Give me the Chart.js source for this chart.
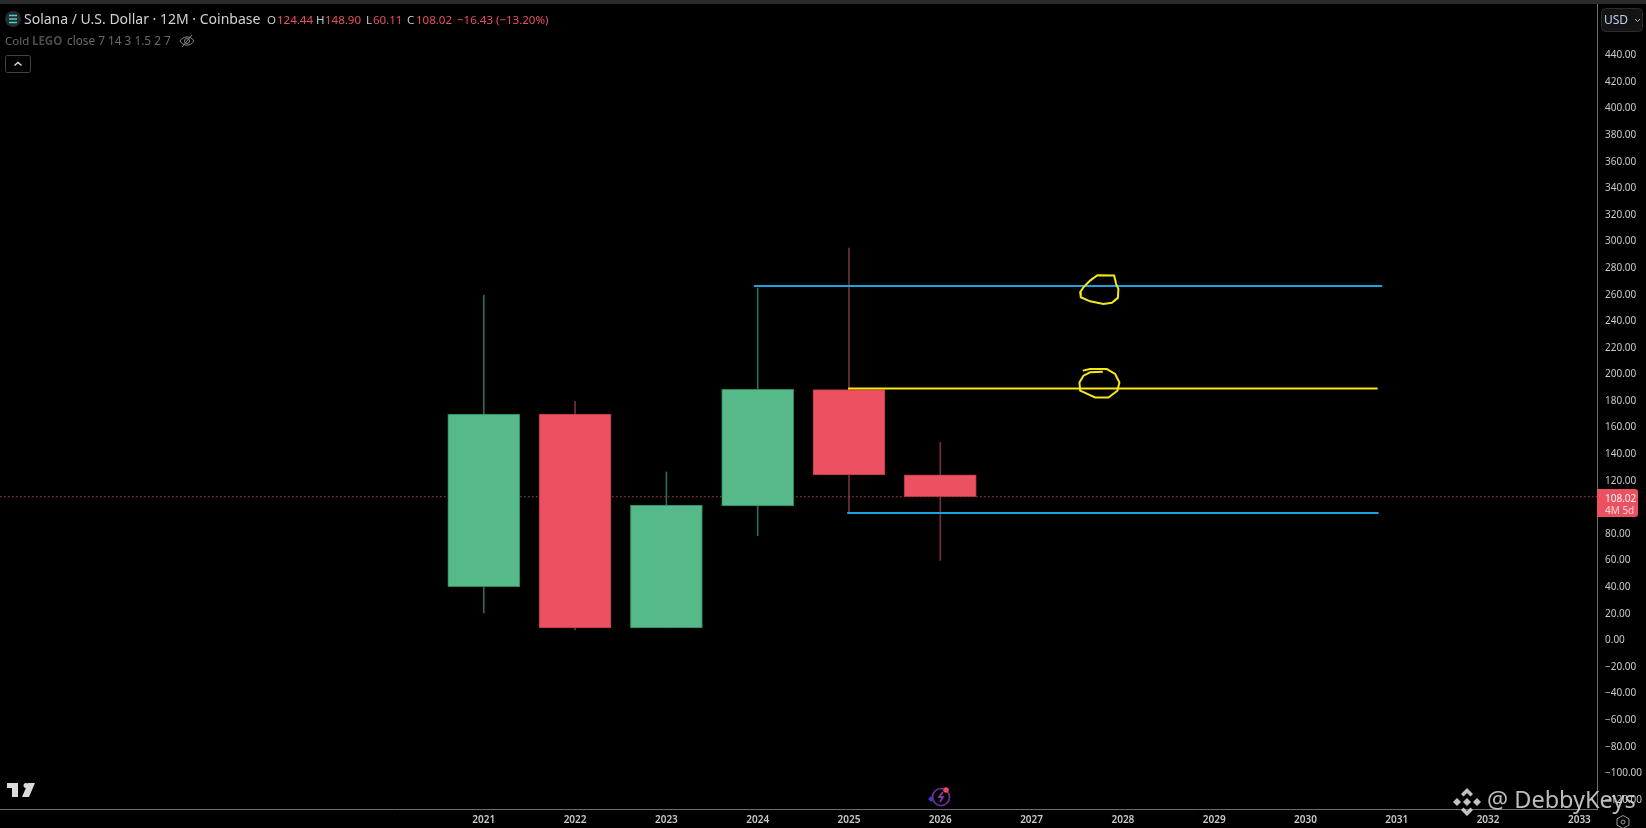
<!DOCTYPE html>
<html><head><meta charset="utf-8">
<script src="https://cdn.jsdelivr.net/npm/chart.js@4"></script>
<style>
html,body{margin:0;padding:0;background:#000;width:1646px;height:828px;overflow:hidden}
#wrap{position:relative;width:1646px;height:828px}
canvas{position:absolute;left:0;top:0}
.t{position:absolute;white-space:nowrap;font-family:"Noto Sans",sans-serif;line-height:1;transform:translateY(-50%)}
.r{color:#e8515f;font-size:11.5px}.w{color:#c4c7ce;font-size:11.5px}
svg{position:absolute;overflow:visible}
</style></head><body><div id="wrap">
<canvas id="c" width="1646" height="828"></canvas>
<div style="position:absolute;left:0;top:0;width:1646px;height:4px;background:#2b2b2b"></div>

<svg style="left:5px;top:11px" width="16" height="16" viewBox="0 0 16 16"><circle cx="8" cy="8" r="8" fill="#2a2a35"/><path d="M4 4.500h8M4 8h8M4 11.500h8" stroke="#45d6c0" stroke-width="1.700"/></svg>
<span class="t" style="left:24px;top:19px;font-size:14px;color:#cfd2d8">Solana / U.S. Dollar · 12M · Coinbase</span>
<span class="t w" style="left:267px;top:19.500px">O</span><span class="t r" style="left:277px;top:19.500px">124.44</span>
<span class="t w" style="left:316px;top:19.500px">H</span><span class="t r" style="left:325px;top:19.500px">148.90</span>
<span class="t w" style="left:366px;top:19.500px">L</span><span class="t r" style="left:373px;top:19.500px">60.11</span>
<span class="t w" style="left:407px;top:19.500px">C</span><span class="t r" style="left:416px;top:19.500px">108.02</span>
<span class="t r" style="left:457px;top:19.500px">−16.43</span><span class="t r" style="left:496px;top:19.500px">(−13.20%)</span>
<span class="t" style="left:5px;top:41px;font-size:11.5px;color:#6a6a6a">Cold</span>
<span class="t" style="left:32px;top:41px;font-size:11.5px;color:#4a4a4a;font-weight:700">LEGO</span>
<span class="t" style="left:67px;top:41px;font-size:11.8px;color:#6a6a6a">close 7 14 3 1.5 2 7</span>
<svg style="left:178px;top:34px" width="18" height="14" viewBox="0 0 18 14"><path d="M2 7c3-5.500 11-5.500 14 0c-3 5.500-11 5.500-14 0z" fill="none" stroke="#8a8a8a"/><circle cx="9" cy="7" r="2.500" fill="none" stroke="#8a8a8a"/><path d="M14 1L4 13" stroke="#8a8a8a"/></svg>
<svg style="left:5px;top:55px" width="26" height="18" viewBox="0 0 26 18"><rect x=".5" y=".5" width="25" height="17" rx="2" fill="none" stroke="#444"/><path d="M9.500 10.500L13 7.500l3.500 3" fill="none" stroke="#ddd" stroke-width="1.400"/></svg>

<svg style="left:1601px;top:8px" width="42" height="24" viewBox="0 0 42 24"><rect x=".5" y=".5" width="41" height="23" rx="4" fill="#141414" stroke="#2c2c2c"/><path d="M34 11l2.500 2.500L39 11" fill="none" stroke="#bbb"/></svg>
<span class="t" style="left:1604px;top:20px;font-size:12px;color:#bcd0ee">USD</span>

<svg style="left:1597px;top:489px" width="41" height="28" viewBox="0 0 41 28"><path d="M0 0H38a3 3 0 0 1 3 3V25a3 3 0 0 1-3 3H0z" fill="#ec5161"/></svg>
<span class="t" style="left:1605px;top:498px;font-size:10px;color:#f5f5f5">108.02</span>
<span class="t" style="left:1605px;top:510px;font-size:10px;color:#f8d5d9">4M 5d</span>

<svg style="left:7px;top:783px" width="28" height="14" viewBox="0 0 28 14"><path d="M0 0H11V14H5V5H0zM19 0a2.500 2.500 0 1 1-.01 0zM21 0H28L22 14H15z" fill="#dcdcdc"/></svg>
<svg style="left:926px;top:785px" width="28" height="24" viewBox="0 0 28 24"><circle cx="15" cy="12" r="8.500" fill="none" stroke="#6f3296" stroke-width="1.700"/><path d="M17 7l-4 5h4l-3 5" fill="none" stroke="#8f40b8" stroke-width="1.500"/><path d="M5 11l2.500 3L5 17l-3-3z" fill="#4a35c8"/><circle cx="20" cy="5" r="2.800" fill="#f0455a"/></svg>
<svg style="left:1615px;top:814px" width="16" height="16" viewBox="0 0 16 16"><path d="M8 1.500l6 3.300v6.400l-6 3.300-6-3.300V4.800z" fill="none" stroke="#999"/><circle cx="8" cy="8" r="2" fill="none" stroke="#999"/></svg>

<svg style="left:1453px;top:788px" width="28" height="28" viewBox="0 0 28 28" opacity=".9"><g fill="#d8d8d8"><path d="M14 0l6 6-2.500 2.500L14 5l-3.500 3.500L8 6zM14 28l6-6-2.500-2.500L14 23l-3.500-3.500L8 22zM4 10l4 4-4 4-4-4zM24 10l4 4-4 4-4-4zM14 10l4 4-4 4-4-4z"/></g></svg>
<span class="t" style="left:1487px;top:800px;font-size:23.500px;color:rgba(215,215,215,.88)">@ DebbyKeys</span>
</div>
<script>
const years = [2021, 2022, 2023, 2024, 2025, 2026];
const opens = [40.3, 170.2, 9.4, 101.2, 188.6, 124.44];
const highs = [259.7, 179.8, 126.6, 265, 295, 148.90];
const lows = [20.7, 7.9, 9.4, 78.6, 95.7, 60.11];
const closes = [170.2, 9.4, 101.7, 188.8, 124.44, 108.02];
const xMin = 2015.701, xMax = 2033.193;
const yMin = -126.9, yMax = 478.7;
const lastPrice = 108.02;
const upperBlueX = [2023.96, 2030.84], upperBlueY = 266.5;
const yellowX = [2024.99, 2030.79], yellowY = 189.5;
const lowerBlueX = [2024.98, 2030.80], lowerBlueY = 95.7;
const circleTopX = [2027.568,2027.532,2027.539,2027.641,2027.787,2027.879,2027.945,2027.951,2027.926,2027.904,2027.721,2027.641,2027.568];
const circleTopY = [265.6,261.8,258.1,255.0,253.1,253.9,257.6,264.4,268.2,274.4,274.6,270.6,265.6];
const circleBotX = [2027.561,2027.641,2027.824,2027.915,2027.962,2027.940,2027.842,2027.696,2027.532,2027.524,2027.568,2027.641,2027.780];
const circleBotY = [202.9,204.1,204.1,200.4,194.0,187.8,182.7,182.7,187.8,194.0,199.1,201.6,202.1];

const UP = '#56b989', UPB = '#2f8560', UPW = '#2f6a52', DN = '#ec5161', DNB = '#b5384a', DNW = '#73303c';
const isUp = years.map((_, i) => closes[i] >= opens[i]);
const lineDs = (data, color, width, order, extra) => Object.assign({type:'line', data, borderColor:color, borderWidth:width, pointRadius:0, tension:0, fill:false, order}, extra||{});
const hLine = (xs, y) => xs.map(x => ({x, y}));
const zip = (xs, ys) => xs.map((x, i) => ({x, y: ys[i]}));
const noPad = s => { s.paddingTop = 0; s.paddingBottom = 0; s.paddingLeft = 0; s.paddingRight = 0; };

new Chart(document.getElementById('c'), {
  type: 'bar',
  data: { datasets: [
    {label:'wick', data: years.map((x,i)=>({x, y:[lows[i], highs[i]]})), backgroundColor: isUp.map(u=>u?UPW:DNW), barThickness:1, grouped:false, order:6},
    lineDs(hLine([xMin,xMax], lastPrice), '#a83f4c', 1, 5, {borderDash:[1.5,2.5]}),
    {label:'body', data: years.map((x,i)=>({x, y:[opens[i], closes[i]]})), backgroundColor: isUp.map(u=>u?UP:DN), borderColor: isUp.map(u=>u?UPB:DNB), borderWidth:1, borderSkipped:false, barThickness:72, grouped:false, order:4},
    lineDs(hLine(upperBlueX, upperBlueY), '#1aa3dc', 2, 3),
    lineDs(hLine(lowerBlueX, lowerBlueY), '#1aa3dc', 2, 3),
    lineDs(hLine(yellowX, yellowY), '#f7ea0c', 2, 3),
    lineDs(zip(circleTopX, circleTopY), '#f5e81a', 2, 2),
    lineDs(zip(circleBotX, circleBotY), '#f5e81a', 2, 2)
  ]},
  options: {
    responsive:false, animation:false, devicePixelRatio:1,
    layout:{padding:{top:4,left:0,right:0,bottom:0}},
    plugins:{legend:{display:false},tooltip:{enabled:false},title:{display:false}},
    scales:{
      x:{type:'linear',position:'bottom',min:xMin,max:xMax,offset:false,
        grid:{display:false,drawTicks:false},border:{display:true,color:'#6f6f6f'},
        afterFit(s){s.height=19;noPad(s);},
        ticks:{stepSize:1,includeBounds:false,autoSkip:false,maxRotation:0,padding:5,color:'#c9c9c9',font:{family:'Noto Sans',size:10,weight:'600'},
          callback:v=>(v>=years[0]&&Number.isInteger(v))?String(v):''}},
      y:{type:'linear',position:'right',min:yMin,max:yMax,
        grid:{display:false,drawTicks:false},border:{display:true,color:'#6f6f6f'},
        afterFit(s){s.width=49;noPad(s);},
        ticks:{stepSize:20,includeBounds:false,autoSkip:false,padding:8,color:'#c9c9c9',font:{family:'Noto Sans',size:10},
          callback:v=>v>440?'':(v<0?'\u2212':'')+Math.abs(v).toFixed(2)}}
    }
  }
});
</script></body></html>
